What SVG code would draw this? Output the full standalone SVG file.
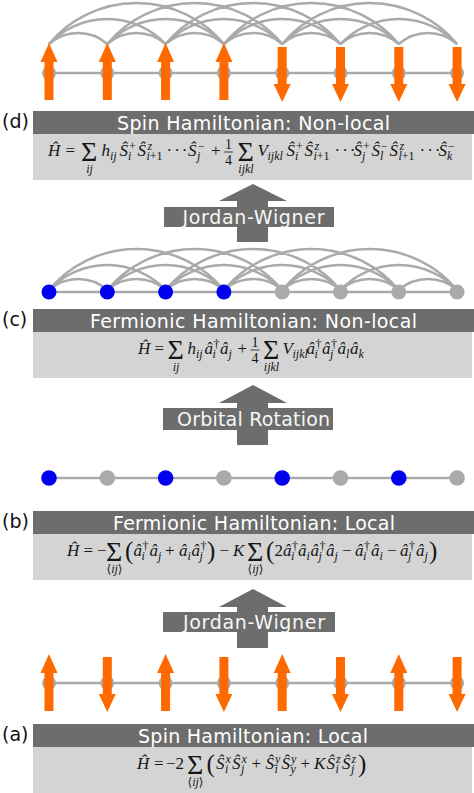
<svg xmlns="http://www.w3.org/2000/svg" xmlns:xlink="http://www.w3.org/1999/xlink" width="474" height="793" viewBox="0 0 474 793">
<defs>
<style>
.hdr{fill:#6d6d6d}
.body{fill:#d4d4d4}
.ttl{font-family:"DejaVu Sans",Verdana,sans-serif;font-size:19px;fill:#ffffff;text-anchor:middle}
.lbl{font-family:"DejaVu Sans",Verdana,sans-serif;font-size:19px;fill:#111111}
.m{font-family:"Liberation Serif","DejaVu Serif",serif;font-size:17px;font-style:italic;fill:#161616}
.u{font-style:normal}
.s{font-size:12px}
.su{font-size:12px;font-style:normal}
.sum{font-size:28px;font-style:normal}
.par{font-size:25px;font-style:normal}
.dots{font-style:normal;letter-spacing:2px}
.mid{text-anchor:middle}
.ln{stroke:#aaaaaa;stroke-width:2.5;fill:none}
.arc{stroke:#aaaaaa;stroke-width:2.4;fill:none}
.bar{stroke:#161616;stroke-width:0.8}
.gc{fill:#aaaaaa}
.bc{fill:#0000ee}
.or{fill:#ff6a00}
.arw{fill:#6d6d6d}
.al{font-family:"DejaVu Sans",Verdana,sans-serif;font-size:19px;fill:#f7f7f7;text-anchor:middle}
</style>
<path id="up" class="or" d="M0,0 L8.5,19 L4.5,19 L4.5,57 L-4.5,57 L-4.5,19 L-8.5,19 Z"/>
<path id="dn" class="or" d="M-4.5,0 L4.5,0 L4.5,37 L8.5,37 L0,55 L-8.5,37 L-4.5,37 Z"/>
</defs>
<rect width="474" height="793" fill="#ffffff"/>

<!-- ===== Connectors ===== -->
<g id="connectors">
  <!-- top spin chain (d) -->
  <g id="conn-d">
    <line class="ln" x1="49" y1="73" x2="457.1" y2="73"/>
    <path class="arc" d="M49,44 A44.1,44.1 0 0 1 107.3,44 M107.3,44 A44.1,44.1 0 0 1 165.6,44 M165.6,44 A44.1,44.1 0 0 1 223.9,44 M223.9,44 A44.1,44.1 0 0 1 282.2,44 M282.2,44 A44.1,44.1 0 0 1 340.5,44 M340.5,44 A44.1,44.1 0 0 1 398.8,44 M398.8,44 A44.1,44.1 0 0 1 457.1,44"/>
    <path class="arc" d="M49,44 A80.5,80.5 0 0 1 165.6,44 M107.3,44 A80.5,80.5 0 0 1 223.9,44 M165.6,44 A80.5,80.5 0 0 1 282.2,44 M223.9,44 A80.5,80.5 0 0 1 340.5,44 M282.2,44 A80.5,80.5 0 0 1 398.8,44 M340.5,44 A80.5,80.5 0 0 1 457.1,44"/>
    <path class="arc" d="M49,44 A113.8,113.8 0 0 1 223.9,44 M107.3,44 A113.8,113.8 0 0 1 282.2,44 M165.6,44 A113.8,113.8 0 0 1 340.5,44 M223.9,44 A113.8,113.8 0 0 1 398.8,44 M282.2,44 A113.8,113.8 0 0 1 457.1,44"/>
  </g>
  <!-- fermionic non-local chain (c) -->
  <g id="conn-c">
    <line class="ln" x1="49" y1="292" x2="457.1" y2="292"/>
    <path class="arc" d="M49,290 A44.1,44.1 0 0 1 107.3,290 M107.3,290 A44.1,44.1 0 0 1 165.6,290 M165.6,290 A44.1,44.1 0 0 1 223.9,290 M223.9,290 A44.1,44.1 0 0 1 282.2,290 M282.2,290 A44.1,44.1 0 0 1 340.5,290 M340.5,290 A44.1,44.1 0 0 1 398.8,290 M398.8,290 A44.1,44.1 0 0 1 457.1,290"/>
    <path class="arc" d="M49,290 A80.5,80.5 0 0 1 165.6,290 M107.3,290 A80.5,80.5 0 0 1 223.9,290 M165.6,290 A80.5,80.5 0 0 1 282.2,290 M223.9,290 A80.5,80.5 0 0 1 340.5,290 M282.2,290 A80.5,80.5 0 0 1 398.8,290 M340.5,290 A80.5,80.5 0 0 1 457.1,290"/>
    <path class="arc" d="M49,290 A113.8,113.8 0 0 1 223.9,290 M107.3,290 A113.8,113.8 0 0 1 282.2,290 M165.6,290 A113.8,113.8 0 0 1 340.5,290 M223.9,290 A113.8,113.8 0 0 1 398.8,290 M282.2,290 A113.8,113.8 0 0 1 457.1,290"/>
  </g>
  <!-- fermionic local chain (b) -->
  <line id="conn-b" class="ln" x1="49" y1="478" x2="457.1" y2="478"/>
  <!-- spin local chain (a) -->
  <line id="conn-a" class="ln" x1="49" y1="683" x2="457.1" y2="683"/>
</g>

<!-- ===== Site rows ===== -->
<g id="sites-d">
  <circle class="gc" cx="49" cy="73" r="7"/><circle class="gc" cx="107.3" cy="73" r="7"/><circle class="gc" cx="165.6" cy="73" r="7"/><circle class="gc" cx="223.9" cy="73" r="7"/>
  <circle class="gc" cx="282.2" cy="73" r="7"/><circle class="gc" cx="340.5" cy="73" r="7"/><circle class="gc" cx="398.8" cy="73" r="7"/><circle class="gc" cx="457.1" cy="73" r="7"/>
  <use xlink:href="#up" x="49" y="43"/><use xlink:href="#up" x="107.3" y="43"/><use xlink:href="#up" x="165.6" y="43"/><use xlink:href="#up" x="223.9" y="43"/>
  <use xlink:href="#dn" x="282.2" y="47"/><use xlink:href="#dn" x="340.5" y="47"/><use xlink:href="#dn" x="398.8" y="47"/><use xlink:href="#dn" x="457.1" y="47"/>
</g>
<g id="sites-c">
  <circle class="bc" cx="49" cy="292" r="7.5"/><circle class="bc" cx="107.3" cy="292" r="7.5"/><circle class="bc" cx="165.6" cy="292" r="7.5"/><circle class="bc" cx="223.9" cy="292" r="7.5"/>
  <circle class="gc" cx="282.2" cy="292" r="7.5"/><circle class="gc" cx="340.5" cy="292" r="7.5"/><circle class="gc" cx="398.8" cy="292" r="7.5"/><circle class="gc" cx="457.1" cy="292" r="7.5"/>
</g>
<g id="sites-b">
  <circle class="bc" cx="49" cy="478" r="7.8"/><circle class="gc" cx="107.3" cy="478" r="7.8"/><circle class="bc" cx="165.6" cy="478" r="7.8"/><circle class="gc" cx="223.9" cy="478" r="7.8"/>
  <circle class="bc" cx="282.2" cy="478" r="7.8"/><circle class="gc" cx="340.5" cy="478" r="7.8"/><circle class="bc" cx="398.8" cy="478" r="7.8"/><circle class="gc" cx="457.1" cy="478" r="7.8"/>
</g>
<g id="sites-a">
  <circle class="gc" cx="49" cy="683" r="7"/><circle class="gc" cx="107.3" cy="683" r="7"/><circle class="gc" cx="165.6" cy="683" r="7"/><circle class="gc" cx="223.9" cy="683" r="7"/>
  <circle class="gc" cx="282.2" cy="683" r="7"/><circle class="gc" cx="340.5" cy="683" r="7"/><circle class="gc" cx="398.8" cy="683" r="7"/><circle class="gc" cx="457.1" cy="683" r="7"/>
  <use xlink:href="#up" x="49" y="654"/><use xlink:href="#dn" x="107.3" y="657"/><use xlink:href="#up" x="165.6" y="654"/><use xlink:href="#dn" x="223.9" y="657"/>
  <use xlink:href="#up" x="282.2" y="654"/><use xlink:href="#dn" x="340.5" y="657"/><use xlink:href="#up" x="398.8" y="654"/><use xlink:href="#dn" x="457.1" y="657"/>
</g>

<!-- ===== Panel (d) ===== -->
<g id="panel-d">
  <rect class="hdr" x="33" y="111" width="441" height="23"/>
  <rect class="body" x="33" y="134" width="439" height="46"/>
  <text class="lbl" x="2" y="127.5">(d)</text>
  <text class="ttl" x="253.5" y="130" textLength="273">Spin Hamiltonian: Non-local</text>
  <text class="m">
    <tspan x="48" y="156">Ĥ</tspan>
    <tspan class="u" x="65.5" y="156">=</tspan>
    <tspan class="sum" x="81" y="161">Σ</tspan>
    <tspan x="101.5" y="156">h</tspan><tspan class="s" x="110" y="160">ij</tspan>
    <tspan x="119.5" y="156">Ŝ</tspan><tspan class="su" x="129" y="149.5">+</tspan><tspan class="s" x="128" y="160">i</tspan>
    <tspan x="137.5" y="156">Ŝ</tspan><tspan class="s" x="147.5" y="149.5">z</tspan><tspan class="s" x="146.5" y="160">i</tspan><tspan class="su">+1</tspan>
    <tspan class="dots" x="166.5" y="156">···</tspan>
    <tspan x="188" y="156">Ŝ</tspan><tspan class="su" x="198" y="149.5">−</tspan><tspan class="s" x="197" y="160">j</tspan>
    <tspan class="u" x="211" y="156">+</tspan>
    <tspan class="sum" x="237.5" y="161">Σ</tspan>
    <tspan x="257.5" y="156">V</tspan><tspan class="s" x="267.5" y="160">ijkl</tspan>
    <tspan x="286.5" y="156">Ŝ</tspan><tspan class="su" x="296" y="149.5">+</tspan><tspan class="s" x="295" y="160">i</tspan>
    <tspan x="304.5" y="156">Ŝ</tspan><tspan class="s" x="314.5" y="149.5">z</tspan><tspan class="s" x="313.5" y="160">i</tspan><tspan class="su">+1</tspan>
    <tspan class="dots" x="334.5" y="156">···</tspan>
    <tspan x="353.5" y="156">Ŝ</tspan><tspan class="su" x="363" y="149.5">+</tspan><tspan class="s" x="362" y="160">j</tspan>
    <tspan x="371.5" y="156">Ŝ</tspan><tspan class="su" x="381" y="149.5">−</tspan><tspan class="s" x="380" y="160">l</tspan>
    <tspan x="389.5" y="156">Ŝ</tspan><tspan class="s" x="399.5" y="149.5">z</tspan><tspan class="s" x="398.5" y="160">l</tspan><tspan class="su">+1</tspan>
    <tspan class="dots" x="419.5" y="156">···</tspan>
    <tspan x="438.5" y="156">Ŝ</tspan><tspan class="su" x="448" y="149.5">−</tspan><tspan class="s" x="447" y="160">k</tspan>
  </text>
  <text class="m s mid" x="89.5" y="173">ij</text>
  <text class="m s mid" x="246" y="173">ijkl</text>
  <text class="m u mid" x="228.5" y="149" style="font-size:14px">1</text>
  <line class="bar" x1="224" y1="152" x2="233" y2="152"/>
  <text class="m u mid" x="228.5" y="164.5" style="font-size:14px">4</text>
</g>

<!-- ===== Arrow: Jordan-Wigner (top) ===== -->
<g id="jw-top">
  <path class="arw" d="M253,184 L287,201 L268,201 L268,242 L237,242 L237,201 L219,201 Z"/>
  <rect class="arw" x="164" y="207" width="170" height="20"/>
  <text class="al" x="253.5" y="223.5" textLength="142">Jordan-Wigner</text>
</g>

<!-- ===== Panel (c) ===== -->
<g id="panel-c">
  <rect class="hdr" x="33" y="309" width="441" height="23"/>
  <rect class="body" x="33" y="332" width="439" height="46"/>
  <text class="lbl" x="2" y="325.5">(c)</text>
  <text class="ttl" x="253.5" y="328" textLength="327">Fermionic Hamiltonian: Non-local</text>
  <text class="m">
    <tspan x="138" y="354">Ĥ</tspan>
    <tspan class="u" x="154.5" y="354">=</tspan>
    <tspan class="sum" x="167.5" y="359">Σ</tspan>
    <tspan x="187.5" y="354">h</tspan><tspan class="s" x="196" y="358">ij</tspan>
    <tspan x="204.5" y="354">â</tspan><tspan class="su" x="213.5" y="347.5">†</tspan><tspan class="s" x="212.5" y="358">i</tspan>
    <tspan x="220" y="354">â</tspan><tspan class="s" x="228.5" y="358">j</tspan>
    <tspan class="u" x="237.5" y="354">+</tspan>
    <tspan class="sum" x="263" y="359">Σ</tspan>
    <tspan x="282.5" y="354">V</tspan><tspan class="s" x="292.5" y="358">ijkl</tspan>
    <tspan x="306.5" y="354">â</tspan><tspan class="su" x="315.5" y="347.5">†</tspan><tspan class="s" x="314.5" y="358">i</tspan>
    <tspan x="322" y="354">â</tspan><tspan class="su" x="331" y="347.5">†</tspan><tspan class="s" x="330" y="358">j</tspan>
    <tspan x="337.5" y="354">â</tspan><tspan class="s" x="346" y="358">l</tspan>
    <tspan x="350" y="354">â</tspan><tspan class="s" x="358.5" y="358">k</tspan>
  </text>
  <text class="m s mid" x="176" y="371">ij</text>
  <text class="m s mid" x="271.5" y="371">ijkl</text>
  <text class="m u mid" x="255" y="347" style="font-size:14px">1</text>
  <line class="bar" x1="250.5" y1="350" x2="259.5" y2="350"/>
  <text class="m u mid" x="255" y="362.5" style="font-size:14px">4</text>
</g>

<!-- ===== Arrow: Orbital Rotation ===== -->
<g id="orbital-rotation">
  <path class="arw" d="M253,385 L287,403 L268,403 L268,445 L237,445 L237,403 L219,403 Z"/>
  <rect class="arw" x="163" y="408" width="170" height="22"/>
  <text class="al" x="253.5" y="426" textLength="153">Orbital Rotation</text>
</g>

<!-- ===== Panel (b) ===== -->
<g id="panel-b">
  <rect class="hdr" x="33" y="511" width="441" height="23"/>
  <rect class="body" x="33" y="534" width="439" height="46"/>
  <text class="lbl" x="2" y="527.5">(b)</text>
  <text class="ttl" x="254" y="530" textLength="282">Fermionic Hamiltonian: Local</text>
  <text class="m">
    <tspan x="67" y="556">Ĥ</tspan>
    <tspan class="u" x="83.5" y="556">=</tspan>
    <tspan class="u" x="97" y="556">−</tspan>
    <tspan class="sum" x="106" y="561">Σ</tspan>
    <tspan class="par" x="125" y="559">(</tspan>
    <tspan x="133.5" y="556">â</tspan><tspan class="su" x="142.5" y="549.5">†</tspan><tspan class="s" x="141.5" y="560">i</tspan>
    <tspan x="149.5" y="556">â</tspan><tspan class="s" x="158" y="560">j</tspan>
    <tspan class="u" x="165" y="556">+</tspan>
    <tspan x="179" y="556">â</tspan><tspan class="s" x="187.5" y="560">i</tspan>
    <tspan x="191.5" y="556">â</tspan><tspan class="su" x="200.5" y="549.5">†</tspan><tspan class="s" x="199.5" y="560">j</tspan>
    <tspan class="par" x="207" y="559">)</tspan>
    <tspan class="u" x="219.5" y="556">−</tspan>
    <tspan x="233" y="556">K</tspan>
    <tspan class="sum" x="247" y="561">Σ</tspan>
    <tspan class="par" x="266" y="559">(</tspan>
    <tspan class="u" x="274.5" y="556">2</tspan>
    <tspan x="283" y="556">â</tspan><tspan class="su" x="292" y="549.5">†</tspan><tspan class="s" x="291" y="560">i</tspan>
    <tspan x="298" y="556">â</tspan><tspan class="s" x="306.5" y="560">i</tspan>
    <tspan x="310.5" y="556">â</tspan><tspan class="su" x="319.5" y="549.5">†</tspan><tspan class="s" x="318.5" y="560">j</tspan>
    <tspan x="326" y="556">â</tspan><tspan class="s" x="334.5" y="560">j</tspan>
    <tspan class="u" x="342" y="556">−</tspan>
    <tspan x="355" y="556">â</tspan><tspan class="su" x="364" y="549.5">†</tspan><tspan class="s" x="363" y="560">i</tspan>
    <tspan x="371" y="556">â</tspan><tspan class="s" x="379.5" y="560">i</tspan>
    <tspan class="u" x="387" y="556">−</tspan>
    <tspan x="400" y="556">â</tspan><tspan class="su" x="409" y="549.5">†</tspan><tspan class="s" x="408" y="560">j</tspan>
    <tspan x="416" y="556">â</tspan><tspan class="s" x="424.5" y="560">j</tspan>
    <tspan class="par" x="429" y="559">)</tspan>
  </text>
  <text class="m s" x="106.5" y="573"><tspan class="su">⟨</tspan>ij<tspan class="su">⟩</tspan></text>
  <text class="m s" x="247.5" y="573"><tspan class="su">⟨</tspan>ij<tspan class="su">⟩</tspan></text>
</g>

<!-- ===== Arrow: Jordan-Wigner (bottom) ===== -->
<g id="jw-bottom">
  <path class="arw" d="M253,589 L287,607 L268,607 L268,648 L237,648 L237,607 L219,607 Z"/>
  <rect class="arw" x="163" y="612" width="172" height="20"/>
  <text class="al" x="254" y="628.5" textLength="142">Jordan-Wigner</text>
</g>

<!-- ===== Panel (a) ===== -->
<g id="panel-a">
  <rect class="hdr" x="33" y="724" width="441" height="23"/>
  <rect class="body" x="33" y="747" width="439" height="46"/>
  <text class="lbl" x="2" y="740.5">(a)</text>
  <text class="ttl" x="253" y="743" textLength="230">Spin Hamiltonian: Local</text>
  <text class="m">
    <tspan x="137" y="769">Ĥ</tspan>
    <tspan class="u" x="154" y="769">=</tspan>
    <tspan class="u" x="166" y="769">−2</tspan>
    <tspan class="sum" x="187" y="774">Σ</tspan>
    <tspan class="par" x="206.5" y="772">(</tspan>
    <tspan x="216" y="769">Ŝ</tspan><tspan class="s" x="225.5" y="762.5">x</tspan><tspan class="s" x="225" y="773">i</tspan>
    <tspan x="232" y="769">Ŝ</tspan><tspan class="s" x="241.5" y="762.5">x</tspan><tspan class="s" x="241" y="773">j</tspan>
    <tspan class="u" x="251.5" y="769">+</tspan>
    <tspan x="265.5" y="769">Ŝ</tspan><tspan class="s" x="275" y="762.5">y</tspan><tspan class="s" x="274.5" y="773">i</tspan>
    <tspan x="281.5" y="769">Ŝ</tspan><tspan class="s" x="291" y="762.5">y</tspan><tspan class="s" x="290.5" y="773">y</tspan>
    <tspan class="u" x="300.5" y="769">+</tspan>
    <tspan x="314" y="769">K</tspan>
    <tspan x="326.5" y="769">Ŝ</tspan><tspan class="s" x="336" y="762.5">z</tspan><tspan class="s" x="335.5" y="773">i</tspan>
    <tspan x="342" y="769">Ŝ</tspan><tspan class="s" x="351.5" y="762.5">z</tspan><tspan class="s" x="351" y="773">j</tspan>
    <tspan class="par" x="358" y="772">)</tspan>
  </text>
  <text class="m s" x="187.5" y="786"><tspan class="su">⟨</tspan>ij<tspan class="su">⟩</tspan></text>
</g>
</svg>
